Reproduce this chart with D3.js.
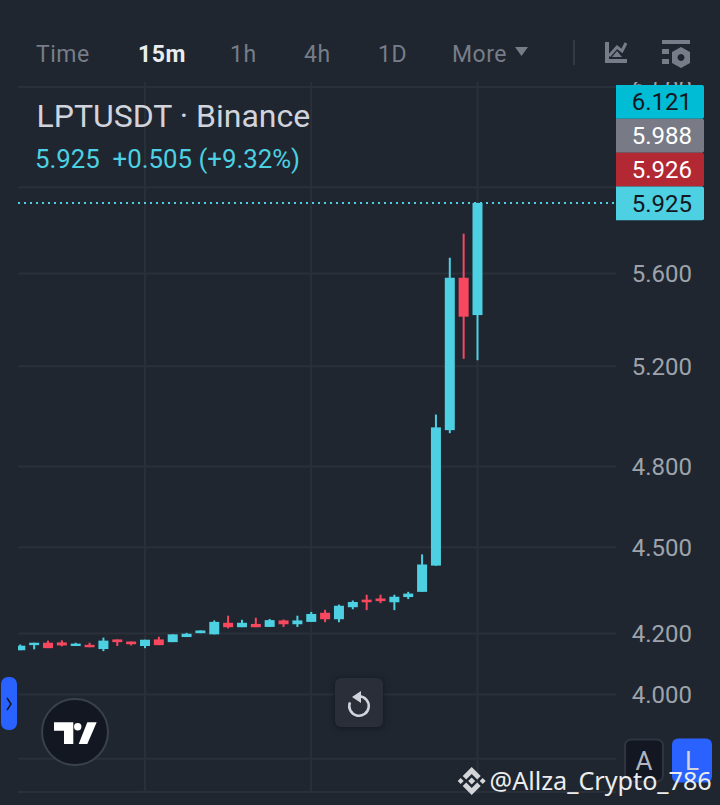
<!DOCTYPE html>
<html>
<head>
<meta charset="utf-8">
<script src="https://cdnjs.cloudflare.com/ajax/libs/d3/7.8.5/d3.min.js"></script>
<style>
  html, body { margin: 0; padding: 0; background: #1f2630; }
  svg { display: block; }
  text { font-family: Roboto, sans-serif; }
</style>
</head>
<body>
<svg id="chart"></svg>
<script>
// candles (15m bars)
const opens  = [4.144,4.161,4.169,4.170,4.158,4.162,4.148,4.180,4.173,4.158,4.180,4.171,4.188,4.201,4.197,4.236,4.221,4.232,4.222,4.244,4.231,4.239,4.270,4.248,4.289,4.315,4.319,4.306,4.324,4.342,4.434,4.941,5.581,5.417];
const closes = [4.159,4.169,4.151,4.160,4.166,4.154,4.176,4.171,4.164,4.179,4.161,4.197,4.199,4.210,4.239,4.221,4.236,4.221,4.245,4.231,4.244,4.266,4.248,4.294,4.307,4.306,4.310,4.325,4.336,4.438,4.952,5.581,5.410,5.925];
const highs  = [4.163,4.169,4.176,4.177,4.169,4.169,4.186,4.180,4.173,4.179,4.189,4.197,4.202,4.210,4.244,4.260,4.246,4.253,4.249,4.247,4.260,4.273,4.280,4.298,4.312,4.332,4.332,4.332,4.342,4.474,5.003,5.671,5.781,5.925];
const lows   = [4.144,4.147,4.151,4.157,4.158,4.154,4.141,4.158,4.160,4.151,4.161,4.171,4.188,4.201,4.197,4.217,4.221,4.221,4.222,4.222,4.222,4.239,4.238,4.238,4.282,4.279,4.303,4.279,4.317,4.342,4.434,4.929,5.231,5.225];

const gridPrices = [3.7,3.8,4.0,4.2,4.5,4.8,5.2,5.6,6.0,6.5];
const labelPrices = [4.0,4.2,4.5,4.8,5.2,5.6,6.5];
const gridBars = [9,21,33];
const lastPrice = 5.925;

const menuItems = ['Time','15m','1h','4h','1D','More'];
const menuX = [36,138,230,304,378,452];
const badgeValues = ['6.121','5.988','5.926','5.925'];
const badgeColors = ['#00bcd4','#787b86','#b22833','#4dd0e1'];
const badgeText = ['#131722','#ffffff','#ffffff','#131722'];

const w = 720, h = 805;
const bg = '#1f2630', gridColor = '#2a303a', up = '#4dd0e1', down = '#f7485f', menuGrey = '#777d88';

const svg = d3.select('#chart').attr('width', w).attr('height', h)
  .attr('viewBox', [0, 0, w, h]);

svg.append('rect').attr('width', w).attr('height', h).attr('fill', bg);

const x = d3.scaleLinear().domain([0, 33]).range([20.300, 477.500]);
const y = d3.scaleLog().domain([4, 5.6]).range([694.500, 273.500]);

// candles get cut at the left edge of the pane
svg.append('clipPath').attr('id', 'pane')
  .append('rect').attr('x', 18).attr('y', 82).attr('width', 598).attr('height', 709);

// grid + price axis
const hGrid = svg.append('g')
  .attr('transform', 'translate(18,0)')
  .call(d3.axisRight(y).offset(0).tickValues(gridPrices).tickSize(598).tickFormat(''));
const vGrid = svg.append('g')
  .attr('transform', 'translate(0,791)')
  .call(d3.axisTop(x).offset(0).tickValues(gridBars).tickSize(709).tickFormat(''));
[hGrid, vGrid].forEach(g => {
  g.select('.domain').remove();
  g.selectAll('line').attr('stroke', gridColor).attr('stroke-width', 2);
});

const priceAxis = svg.append('g')
  .attr('transform', 'translate(692,1)')
  .call(d3.axisLeft(y).offset(0).tickValues(labelPrices).tickSize(0).tickPadding(0).tickFormat(d3.format('.3f')));
priceAxis.select('.domain').remove();
priceAxis.selectAll('text')
  .attr('fill', '#9ea3ab').attr('font-size', 24)
  .style('font-family', 'Roboto');

// last price line
svg.append('line')
  .attr('x1', 18).attr('x2', 616)
  .attr('y1', y(lastPrice)).attr('y2', y(lastPrice))
  .attr('stroke', up).attr('stroke-width', 2).attr('stroke-dasharray', '2 4');

// candles
const bars = svg.append('g').attr('clip-path', 'url(#pane)').selectAll('g')
  .data(d3.range(opens.length))
  .enter().append('g')
  .attr('fill', i => closes[i] >= opens[i] ? up : down);

bars.append('rect')
  .attr('x', i => x(i) - 1)
  .attr('width', 2)
  .attr('y', i => y(highs[i]))
  .attr('height', i => y(lows[i]) - y(highs[i]));

bars.append('rect')
  .attr('x', i => x(i) - 5)
  .attr('width', 10)
  .attr('y', i => y(Math.max(opens[i], closes[i])))
  .attr('height', i => Math.max(2, Math.abs(y(opens[i]) - y(closes[i]))));

// header covers anything above the pane
svg.append('rect').attr('width', w).attr('height', 82).attr('fill', bg);

svg.append('g').selectAll('text')
  .data(menuItems)
  .enter().append('text')
  .attr('x', (d, i) => menuX[i])
  .attr('y', 62)
  .attr('font-size', 23)
  .attr('letter-spacing', 0.5)
  .attr('font-weight', d => d === '15m' ? 700 : 400)
  .attr('fill', d => d === '15m' ? '#eaecef' : menuGrey)
  .text(d => d);

// little arrow next to More
svg.append('path').attr('d', 'M515 47h13l-6.500 9z').attr('fill', menuGrey);
svg.append('rect').attr('x', 573).attr('y', 40).attr('width', 2).attr('height', 25).attr('fill', '#343a45');

// toolbar icons
const icons = svg.append('g').attr('fill', menuGrey);
icons.append('path').attr('d', 'M605 42h4v17h18v4h-22z');
icons.append('path').attr('d', 'M609 56l8-9 5 4 4-8').attr('fill', 'none')
  .attr('stroke', menuGrey).attr('stroke-width', 3);
icons.append('path').attr('d', 'M617 51l5 6h-10z');
icons.append('rect').attr('x', 662).attr('y', 40).attr('width', 28).attr('height', 4);
icons.append('rect').attr('x', 662).attr('y', 49).attr('width', 7).attr('height', 5);
icons.append('rect').attr('x', 662).attr('y', 59).attr('width', 7).attr('height', 5);
icons.append('path').attr('fill-rule', 'evenodd')
  .attr('d', 'M681 47l9 5v11l-9 5-9-5v-11zM681 54a3.500 3.500 0 1 0 .01 0z');

// title
svg.append('text').attr('x', 36.500).attr('y', 127).attr('font-size', 32)
  .attr('fill', '#d1d4dc').text('LPTUSDT · Binance');
svg.append('text').attr('x', 35).attr('y', 168).attr('font-size', 25.800)
  .attr('fill', up).attr('xml:space', 'preserve').text('5.925  +0.505 (+9.32%)');

// price badges
const badgeY = d3.scaleBand().domain(d3.range(badgeValues.length)).range([85, 220.300]);
const badges = svg.append('g').selectAll('g')
  .data(badgeValues)
  .enter().append('g')
  .attr('transform', (d, i) => `translate(616,${badgeY(i)})`);
badges.append('path')
  .attr('d', `M0 0h86a2 2 0 0 1 2 2v${badgeY.bandwidth() - 4}a2 2 0 0 1-2 2h-86z`)
  .attr('fill', (d, i) => badgeColors[i]);
badges.append('text')
  .attr('x', 76).attr('y', badgeY.bandwidth() / 2 + 8.500)
  .attr('text-anchor', 'end').attr('font-size', 24)
  .attr('fill', (d, i) => badgeText[i])
  .text(d => d);

// left tab
svg.append('rect').attr('x', 1).attr('y', 677).attr('width', 16).attr('height', 53)
  .attr('rx', 7).attr('fill', '#2962ff');
svg.append('path').attr('d', 'M7 698l4 6-4 6').attr('fill', 'none')
  .attr('stroke', '#131722').attr('stroke-width', 1.500);

// tradingview logo
svg.append('circle').attr('cx', 75).attr('cy', 732).attr('r', 33)
  .attr('fill', '#131722').attr('stroke', '#3a404c').attr('stroke-width', 2);
const logo = svg.append('g').attr('fill', '#fff');
logo.append('path').attr('d', 'M54 722.300h19.300v21.700h-9.300v-13.300h-10z');
logo.append('circle').attr('cx', 77.700).attr('cy', 726.700).attr('r', 3.700);
logo.append('path').attr('d', 'M87.300 722.300h9.400l-9.400 21.700h-8.600z');

// reset button
svg.append('rect').attr('x', 335).attr('y', 678).attr('width', 48).attr('height', 49)
  .attr('rx', 6).attr('fill', '#2a2e39')
  .style('filter', 'drop-shadow(0 1px 3px rgba(15,18,24,.8))');
const resetArc = d3.arc().innerRadius(8.500).outerRadius(11)
  .startAngle(0).endAngle(Math.PI * 1.62);
svg.append('path').attr('transform', 'translate(359,706)').attr('d', resetArc())
  .attr('fill', '#d1d4dc');
svg.append('path').attr('d', 'M361 691v12l-9-6z').attr('fill', '#d1d4dc');

// A / L buttons
svg.append('rect').attr('x', 625).attr('y', 739.500).attr('width', 38).attr('height', 42)
  .attr('rx', 6).attr('fill', '#131722').attr('stroke', '#2f3540').attr('stroke-width', 2);
svg.append('rect').attr('x', 672).attr('y', 738.500).attr('width', 40).attr('height', 44)
  .attr('rx', 6).attr('fill', '#2962ff');
svg.append('text').attr('x', 644).attr('y', 770).attr('text-anchor', 'middle')
  .attr('font-size', 26).attr('fill', '#b2b5be').text('A');
svg.append('text').attr('x', 692).attr('y', 770).attr('text-anchor', 'middle')
  .attr('font-size', 26).attr('fill', '#d1d4dc').text('L');

// watermark
const mark = svg.append('g').attr('fill', '#d4d5d9').attr('transform', 'translate(471.700,781)');
mark.append('path').attr('d', 'M0-3.500l3.500 3.500-3.500 3.500-3.500-3.500z');
mark.append('path').attr('d', 'M-11-3l3 3-3 3-3-3zM11-3l3 3-3 3-3-3z');
mark.append('path').attr('d', 'M0-14l9 9-3.500 3.500-5.500-5.500-5.500 5.500-3.500-3.500z');
mark.append('path').attr('d', 'M0 14l9-9-3.500-3.500-5.500 5.500-5.500-5.500-3.500 3.500z');
svg.append('text').attr('x', 489.500).attr('y', 790).attr('font-size', 25.200)
  .attr('fill', '#eceded').style('font-family', '"Noto Sans"').text('@Allza_Crypto_786');
</script>
</body>
</html>
